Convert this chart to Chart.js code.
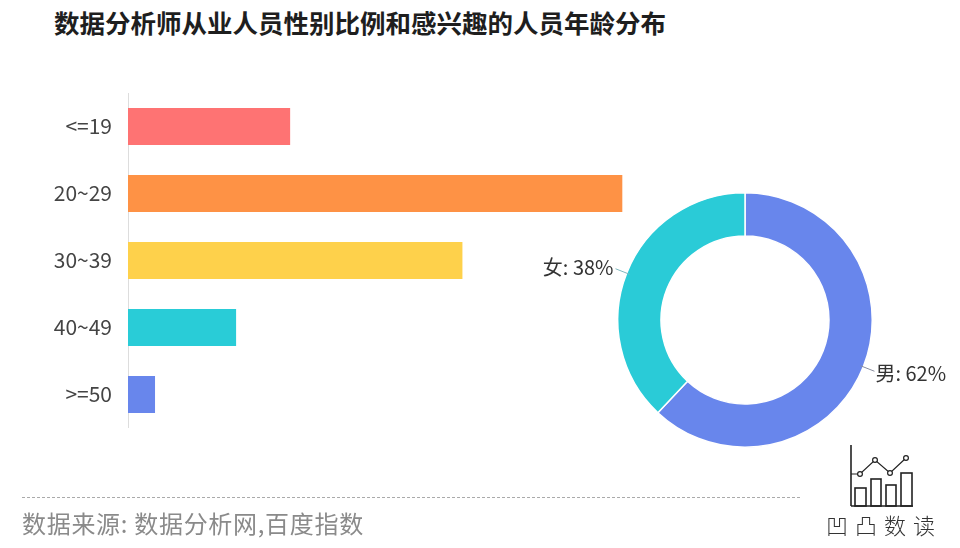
<!DOCTYPE html>
<html>
<head>
<meta charset="utf-8">
<script src="https://cdn.jsdelivr.net/npm/chart.js@4.4.0/dist/chart.umd.min.js"></script>
<style>
html,body{margin:0;padding:0;background:#fff;}
body{width:960px;height:548px;position:relative;overflow:hidden;font-family:"Noto Sans CJK SC","Noto Sans",sans-serif;}
#title{position:absolute;left:54px;top:9px;font-size:25.5px;font-weight:bold;color:#1e1e1e;line-height:1;white-space:nowrap;}
#barCanvas{position:absolute;left:0;top:93px;}
#pieCanvas{position:absolute;left:520px;top:180px;}
#deco{position:absolute;left:0;top:0;}
#source{position:absolute;left:22px;top:511px;font-size:24px;line-height:1;color:#8a8a8a;letter-spacing:0.7px;white-space:nowrap;}
#brand{position:absolute;left:826px;top:513px;font-size:22px;line-height:1;color:#333;letter-spacing:7px;font-weight:300;white-space:nowrap;}
</style>
</head>
<body>
<div id="title">数据分析师从业人员性别比例和感兴趣的人员年龄分布</div>
<canvas id="barCanvas" width="691" height="335"></canvas>
<canvas id="pieCanvas" width="440" height="280"></canvas>
<svg id="deco" width="960" height="548">
  <line x1="22" y1="497.5" x2="800" y2="497.5" stroke="#aaaaaa" stroke-width="1" stroke-dasharray="3 2"/>
  <g stroke="#222" fill="none" stroke-width="1.6">
    <line x1="851" y1="445" x2="851" y2="506"/>
    <line x1="851" y1="506" x2="913" y2="506"/>
    <rect x="855" y="488" width="11" height="18"/>
    <rect x="871" y="479" width="10" height="27"/>
    <rect x="886" y="485" width="10" height="21"/>
    <rect x="901" y="473" width="11" height="33"/>
    <polyline points="851,474 860,474 875,460 890,473 906,458" stroke-width="1.2"/>
  </g>
  <g stroke="#222" fill="#fff" stroke-width="1.2">
    <circle cx="860" cy="474" r="2.4"/>
    <circle cx="875" cy="460" r="2.4"/>
    <circle cx="890" cy="473" r="2.4"/>
    <circle cx="906" cy="458" r="2.4"/>
  </g>
</svg>
<div id="source">数据来源: 数据分析网,百度指数</div>
<div id="brand">凹凸数读</div>
<script>
// ---- data ----
const ageGroups = ['<=19', '20~29', '30~39', '40~49', '>=50'];
const ageShare = [14.4, 43.9, 29.7, 9.6, 2.4];
const barColors = ['#FE7373', '#FE9245', '#FED14B', '#29CCD7', '#6886EC'];
const genderLabels = ['男', '女'];
const genderShare = [62, 38];
const pieColors = ['#6886EC', '#2ACBD7'];
const FONT = '"Noto Sans CJK SC", "Noto Sans", sans-serif';

new Chart(document.getElementById('barCanvas'), {
  type: 'bar',
  data: {
    labels: ageGroups,
    datasets: [{
      data: ageShare,
      backgroundColor: barColors,
      barPercentage: 0.55,
      categoryPercentage: 1
    }]
  },
  options: {
    indexAxis: 'y',
    responsive: false,
    animation: false,
    layout: { padding: 0, autoPadding: false },
    plugins: { legend: { display: false }, tooltip: { enabled: false } },
    scales: {
      x: { display: false, min: 0, max: 50 },
      y: {
        grid: { display: false, drawTicks: false },
        border: { display: true, color: '#dddddd', width: 1 },
        ticks: { color: '#444', font: { size: 21, family: FONT }, padding: 16 },
        afterFit(scale) { scale.width = 128; scale.paddingTop = 0; scale.paddingBottom = 0; }
      }
    }
  }
});

const outLabels = {
  id: 'outLabels',
  afterDatasetsDraw(chart) {
    const ctx = chart.ctx;
    const meta = chart.getDatasetMeta(0);
    meta.data.forEach((arc, i) => {
      const p = arc.getProps(['x', 'y', 'startAngle', 'endAngle', 'outerRadius'], true);
      const mid = (p.startAngle + p.endAngle) / 2;
      const c = Math.cos(mid), s = Math.sin(mid);
      const r1 = p.outerRadius - 3, r2 = p.outerRadius + 12;
      const x1 = p.x + c * r1, y1 = p.y + s * r1;
      const x2 = p.x + c * r2, y2 = p.y + s * r2;
      ctx.save();
      ctx.strokeStyle = i === 0 ? '#8a8fa0' : '#7fb8bf';
      ctx.lineWidth = 1;
      ctx.beginPath();
      ctx.moveTo(x1, y1);
      ctx.lineTo(x2, y2);
      ctx.stroke();
      ctx.font = '20px ' + FONT;
      ctx.fillStyle = '#333';
      ctx.textBaseline = 'middle';
      const text = genderLabels[i] + ': ' + genderShare[i] + '%';
      if (c < 0) {
        ctx.textAlign = 'right';
        ctx.fillText(text, x2 - 2, y2 - 1);
      } else {
        ctx.textAlign = 'left';
        ctx.fillText(text, x2 + 1, y2 + 2);
      }
      ctx.restore();
    });
  }
};

new Chart(document.getElementById('pieCanvas'), {
  type: 'doughnut',
  data: {
    labels: genderLabels,
    datasets: [{
      data: genderShare,
      backgroundColor: pieColors,
      borderColor: '#ffffff',
      borderWidth: 1.5
    }]
  },
  options: {
    responsive: false,
    animation: false,
    cutout: '66%',
    layout: { padding: { left: 97, right: 87, top: 12, bottom: 12 } },
    plugins: { legend: { display: false }, tooltip: { enabled: false } }
  },
  plugins: [outLabels]
});
</script>
</body>
</html>
